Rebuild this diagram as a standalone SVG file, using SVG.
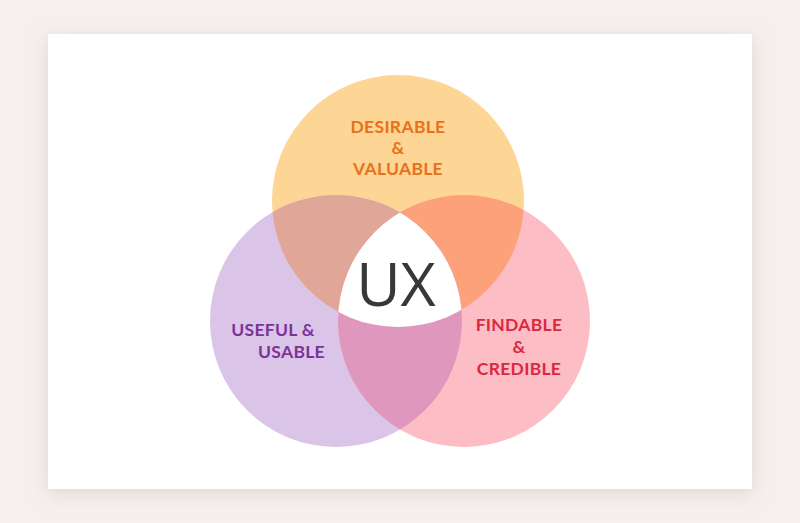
<svg xmlns="http://www.w3.org/2000/svg" width="800" height="523" viewBox="0 0 800 523">
<defs>
<filter id="sh" x="-10%" y="-10%" width="120%" height="125%">
<feDropShadow dx="0" dy="4" stdDeviation="9" flood-color="#c9c2bb" flood-opacity="0.55"/>
</filter>
<clipPath id="cTop"><circle cx="398" cy="201" r="126"/></clipPath>
<clipPath id="cLeft"><circle cx="336" cy="321" r="126"/></clipPath>
<clipPath id="cRight"><circle cx="464" cy="321" r="126"/></clipPath>
</defs>
<style>
.lbl{font-family:Lato,"Liberation Sans",sans-serif;font-weight:700;font-size:17.5px;text-anchor:middle;letter-spacing:0.3px}
.ux{font-family:"Open Sans","Liberation Sans",sans-serif;font-size:61px;fill:#383838;text-anchor:middle}
</style>
<rect width="800" height="523" fill="#f5f0ed"/>
<rect x="48" y="34" width="704" height="455" fill="#ffffff" filter="url(#sh)"/>
<g id="top-circle"><circle cx="398" cy="201" r="126" fill="#fdd594"/></g>
<g id="left-circle"><circle cx="336" cy="321" r="126" fill="#dac4e7"/></g>
<g id="right-circle"><circle cx="464" cy="321" r="126" fill="#fdbdc5"/></g>
<g id="overlaps">
<g clip-path="url(#cTop)"><circle cx="336" cy="321" r="126" fill="#e0a697"/></g>
<g clip-path="url(#cTop)"><circle cx="464" cy="321" r="126" fill="#fda17a"/></g>
<g clip-path="url(#cLeft)"><circle cx="464" cy="321" r="126" fill="#df97be"/></g>
<g clip-path="url(#cTop)"><g clip-path="url(#cLeft)"><circle cx="464" cy="321" r="126" fill="#ffffff"/></g></g>
</g>
<g id="connectors"></g>
<g id="label-top">
<text class="lbl" fill="#e8711c" x="398" y="133">DESIRABLE</text>
<text class="lbl" fill="#e8711c" x="398" y="154">&amp;</text>
<text class="lbl" fill="#e8711c" x="398" y="175">VALUABLE</text>
</g>
<g id="label-left">
<text class="lbl" fill="#7b3398" x="273" y="336">USEFUL &amp;</text>
<text class="lbl" fill="#7b3398" x="291.5" y="358">USABLE</text>
</g>
<g id="label-right">
<text class="lbl" fill="#dc2740" x="519" y="331">FINDABLE</text>
<text class="lbl" fill="#dc2740" x="519" y="353">&amp;</text>
<text class="lbl" fill="#dc2740" x="519" y="375">CREDIBLE</text>
</g>
<g id="center-ux"><text class="ux" x="396" y="306">UX</text></g>
</svg>
